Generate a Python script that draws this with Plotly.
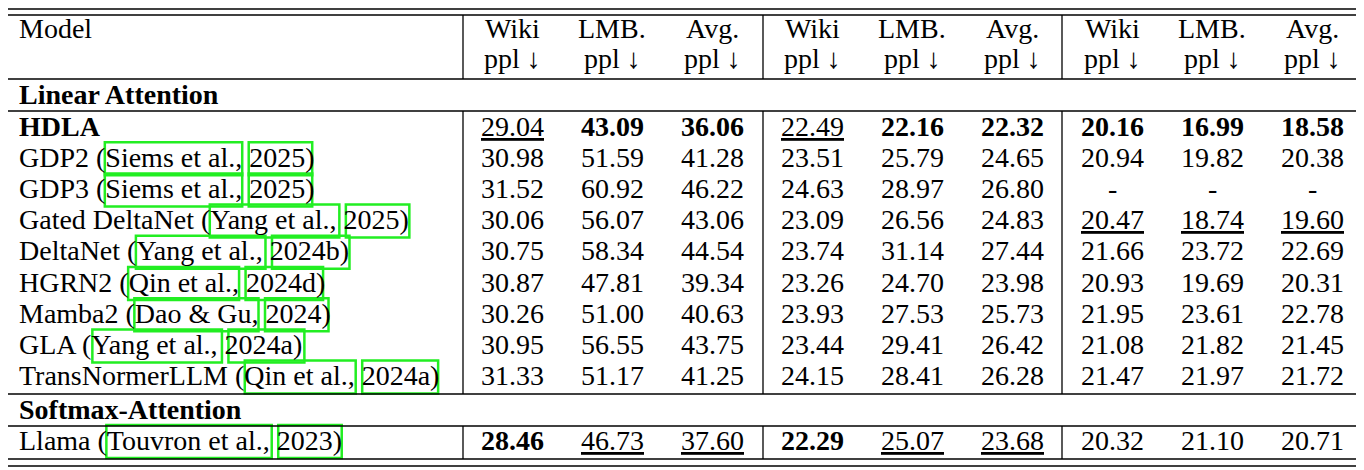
import plotly.graph_objects as go

# Données du tableau (perplexité, plus bas = meilleur)
metrics = ["Wiki", "LMB.", "Avg."]

models = ["HDLA", "GDP2", "GDP3", "Gated DeltaNet", "DeltaNet", "HGRN2",
          "Mamba2", "GLA", "TransNormerLLM"]
cite_authors = [None, "Siems et al.", "Siems et al.", "Yang et al.", "Yang et al.",
                "Qin et al.", "Dao & Gu", "Yang et al.", "Qin et al."]
cite_years = [None, "2025", "2025", "2025", "2024b", "2024d", "2024", "2024a", "2024a"]

hdla = [29.04, 43.09, 36.06, 22.49, 22.16, 22.32, 20.16, 16.99, 18.58]
gdp2 = [30.98, 51.59, 41.28, 23.51, 25.79, 24.65, 20.94, 19.82, 20.38]
gdp3 = [31.52, 60.92, 46.22, 24.63, 28.97, 26.80, None, None, None]
gated_deltanet = [30.06, 56.07, 43.06, 23.09, 26.56, 24.83, 20.47, 18.74, 19.60]
deltanet = [30.75, 58.34, 44.54, 23.74, 31.14, 27.44, 21.66, 23.72, 22.69]
hgrn2 = [30.87, 47.81, 39.34, 23.26, 24.70, 23.98, 20.93, 19.69, 20.31]
mamba2 = [30.26, 51.00, 40.63, 23.93, 27.53, 25.73, 21.95, 23.61, 22.78]
gla = [30.95, 56.55, 43.75, 23.44, 29.41, 26.42, 21.08, 21.82, 21.45]
transnormer = [31.33, 51.17, 41.25, 24.15, 28.41, 26.28, 21.47, 21.97, 21.72]
linear_vals = [hdla, gdp2, gdp3, gated_deltanet, deltanet, hgrn2, mamba2, gla, transnormer]
# b = gras (meilleur), u = souligné (second), . = normal
linear_marks = ["ubbubbbbb", ".........", ".........", "......uuu", ".........",
                ".........", ".........", ".........", "........."]

soft_model = "Llama"
soft_author = "Touvron et al."
soft_year = "2023"
llama = [28.46, 46.73, 37.60, 22.29, 25.07, 23.68, 20.32, 21.10, 20.71]
llama_marks = "buubuu..."

# Mise en page (pixels de la page ; la page a une marge de 8 px)
FS = 28
FONT = "Liberation Serif, Times New Roman, serif"
GREEN = "#22ee22"
W, H = 1364, 470
OFF = 8
name_x = 18
col_x = [512, 612, 712.5, 812, 912, 1012.5, 1112, 1212, 1312]
vline_x = [463, 763, 1062]
head_y = [28.5, 58.5]
linear_y = 94
row0_y, row_dy = 126, 31.2
soft_y, llama_y = 409, 440

# largeurs Times (1/1000 em) pour placer les cadres de lien
CW = {" ": 250, "(": 333, ")": 333, ",": 250, ".": 250, "&": 778,
      "A": 722, "D": 722, "G": 722, "H": 722, "L": 611, "M": 889, "N": 722,
      "P": 556, "Q": 722, "R": 667, "S": 556, "T": 611, "Y": 722,
      "a": 444, "b": 500, "d": 500, "e": 444, "g": 500, "i": 278, "l": 278,
      "m": 778, "n": 500, "o": 500, "r": 333, "s": 389, "t": 278, "u": 500, "v": 500}


def text_w(s):
    return sum(CW.get(c, 500) for c in s) * FS / 1000


def fmt(v, m):
    s = "-" if v is None else f"{v:.2f}"
    if m == "b":
        s = f"<b>{s}</b>"
    elif m == "u":
        s = f"<u>{s}</u>"
    return s


annotations = []
shapes = []


def add_text(x, y, text, anchor="center"):
    annotations.append(dict(x=x, y=y, xref="x", yref="y", text=text, showarrow=False,
                            xanchor=anchor, yanchor="middle", borderpad=0,
                            font=dict(family=FONT, size=FS, color="black")))


def add_model(y, name, author, year, bold=False):
    if author is None:
        add_text(name_x, y, f"<b>{name}</b>" if bold else name, "left")
        return
    add_text(name_x, y, f"{name} ({author}, {year})", "left")
    x1 = name_x + text_w(name + " (")
    x2 = x1 + text_w(author)
    x3 = x2 + text_w(", ")
    x4 = x3 + text_w(year)
    for a, b in [(x1, x2), (x3, x4)]:
        shapes.append(dict(type="rect", xref="x", yref="y", x0=a + 0.5, x1=b + 8,
                           y0=y - 15, y1=y + 18, line=dict(color=GREEN, width=2.5),
                           layer="above"))


# En-tête
add_text(name_x, head_y[0], "Model", "left")
for i, x in enumerate(col_x):
    add_text(x, head_y[0], metrics[i % 3])
    add_text(x, head_y[1], "ppl ↓")

add_text(name_x, linear_y, "<b>Linear Attention</b>", "left")
for k, (vals, marks) in enumerate(zip(linear_vals, linear_marks)):
    y = row0_y + k * row_dy
    add_model(y, models[k], cite_authors[k], cite_years[k], bold=(k == 0))
    for x, v, m in zip(col_x, vals, marks):
        add_text(x, y, fmt(v, m))

add_text(name_x, soft_y, "<b>Softmax-Attention</b>", "left")
add_model(llama_y, soft_model, soft_author, soft_year)
for x, v, m in zip(col_x, llama, llama_marks):
    add_text(x, llama_y, fmt(v, m))

# Filets horizontaux
for y in [9, 15, 79, 111, 394, 426, 459, 466]:
    shapes.append(dict(type="line", xref="x", yref="y", x0=2, x1=1362, y0=y, y1=y,
                       line=dict(color="black", width=1.3)))
# Filets verticaux
for x in vline_x:
    for y0, y1 in [(15, 79), (111, 394), (426, 459)]:
        shapes.append(dict(type="line", xref="x", yref="y", x0=x, x1=x, y0=y0, y1=y1,
                           line=dict(color="black", width=1.3)))

# Bas des cadres de la légende coupée au-dessus
for a, b in [(140, 333), (346, 421)]:
    shapes.append(dict(type="rect", xref="x", yref="y", x0=a, x1=b, y0=-30, y1=5,
                       line=dict(color=GREEN, width=2.5)))

fig = go.Figure()
fig.add_trace(go.Scatter(x=[OFF, W], y=[OFF, H], mode="markers", marker=dict(opacity=0),
                         hoverinfo="skip", showlegend=False))
fig.update_layout(width=W - OFF, height=H - OFF, margin=dict(l=0, r=0, t=0, b=0),
                  paper_bgcolor="white", plot_bgcolor="white", showlegend=False,
                  annotations=annotations, shapes=shapes,
                  xaxis=dict(range=[OFF, W], visible=False, fixedrange=True),
                  yaxis=dict(range=[H, OFF], visible=False, fixedrange=True))
fig.write_html("out.html", config={"displayModeBar": False})
